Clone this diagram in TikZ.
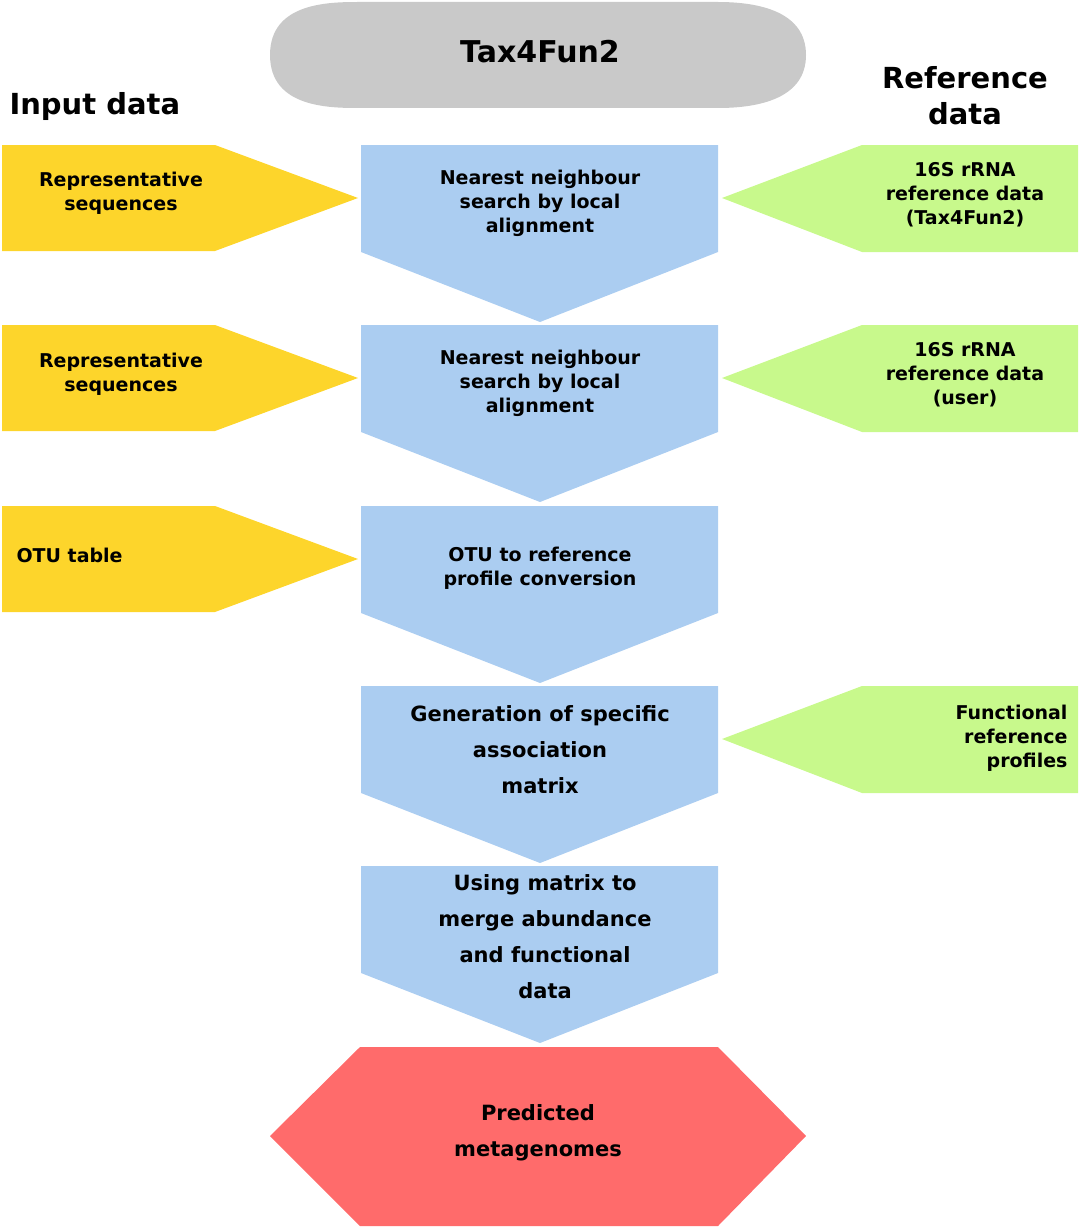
\documentclass[tikz,border=0pt]{standalone}
\usepackage{fontspec}
\setmainfont{DejaVu Sans}
\begin{document}
\begin{tikzpicture}[x=1pt,y=-1pt,
  lbl/.style={font=\bfseries\fontsize{19}{24}\selectfont,align=center},
  yel/.style={fill=yarr,draw=none},
  grn/.style={fill=garr,draw=none},
  blu/.style={fill=barr,draw=none}]
\definecolor{yarr}{HTML}{FDD52B}
\definecolor{garr}{HTML}{C8F98C}
\definecolor{barr}{HTML}{ABCDF1}
\definecolor{rarr}{HTML}{FF6B6B}
\definecolor{gr}{HTML}{C9C9C9}
\useasboundingbox (0,0) rectangle (1080,1228);
% title
\fill[gr] (270,55) .. controls (270,2) and (330,2) .. (360,2) -- (718,2) .. controls (760,2) and (806,12) .. (806,55) .. controls (806,98) and (760,108) .. (718,108) -- (360,108) .. controls (330,108) and (270,108) .. (270,55) -- cycle;
\node[font=\bfseries\fontsize{30}{36}\selectfont] (title) at (540,52) {Tax4Fun2};
\node[font=\bfseries\fontsize{29}{36}\selectfont,anchor=west] (inp) at (6,106) {Input data};
\node[font=\bfseries\fontsize{29}{36}\selectfont,align=center] (ref) at (965,96) {Reference\\data};
% blue steps
\foreach \t/\i in {145/1,325/2,506/3,686/4,866/5}{
  \fill[blu] (361,\t) -- (718,\t) -- (718,\t+107) -- (540,\t+177) -- (361,\t+107) -- cycle;
}
\node[lbl] (b1) at (540,203) {Nearest neighbour\\search by local\\alignment};
\node[lbl] (b2) at (540,383) {Nearest neighbour\\search by local\\alignment};
\node[lbl] (b3) at (540,568) {OTU to reference\\profile conversion};
\node[lbl,font=\bfseries\fontsize{21}{36}\selectfont] (b4) at (540,750) {Generation of specific\\association\\matrix};
\node[lbl,font=\bfseries\fontsize{21}{36}\selectfont] (b5) at (545,937) {Using matrix to\\merge abundance\\and functional\\data};
% yellow
\foreach \t in {145,325,506}{
  \fill[yel] (2,\t) -- (215,\t) -- (358,\t+53) -- (215,\t+106) -- (2,\t+106) -- cycle;
}
\node[lbl] (y1) at (121,193) {Representative\\sequences};
\node[lbl] (y2) at (121,374) {Representative\\sequences};
\node[lbl,anchor=west] (y3) at (13,555) {OTU table};
% green
\foreach \t in {145,325,686}{
  \fill[grn] (1078,\t) -- (862,\t) -- (722,\t+53) -- (862,\t+107) -- (1078,\t+107) -- cycle;
}
\node[lbl] (g1) at (965,195) {16S rRNA\\reference data\\(Tax4Fun2)};
\node[lbl] (g2) at (965,375) {16S rRNA\\reference data\\(user)};
\node[lbl,align=right,anchor=east] (g3) at (1071,738) {Functional\\reference\\profiles};
% red
\fill[rarr] (270,1136) -- (360,1047) -- (718,1047) -- (806,1136) -- (718,1226) -- (360,1226) -- cycle;
\node[lbl,font=\bfseries\fontsize{21}{36}\selectfont] (pred) at (538,1133) {Predicted\\metagenomes};
\end{tikzpicture}
\end{document}
